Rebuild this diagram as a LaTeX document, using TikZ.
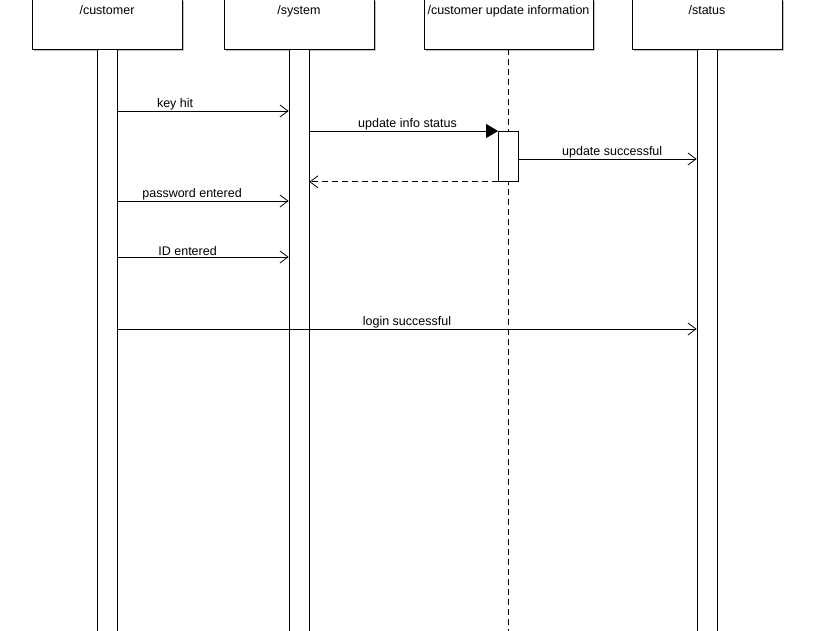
\documentclass[tikz,border=0pt]{standalone}
\usepackage{fontspec}
\setmainfont{Liberation Sans}
\usetikzlibrary{arrows.meta,positioning}
\begin{document}
\begin{tikzpicture}[x=1pt,y=-1pt,line join=miter,>={Straight Barb[length=8pt,width=12pt]},
        font=\fontsize{12.5}{14}\selectfont]
        \tikzset{head/.style={draw,line width=0.9pt,fill=white,minimum width=150pt,minimum height=50pt,inner sep=0pt},
            headshadow/.style={fill=black!25,minimum width=150pt,minimum height=50pt,inner sep=0pt},
            headtext/.style={anchor=north,inner sep=0pt,yshift=-7pt},
            bar/.style={draw,line width=0.8pt,fill=white,minimum width=20pt,minimum height=584pt,inner sep=0pt,anchor=north},
            msg/.style={->,line width=0.8pt},
            call/.style={-{Triangle[length=12pt,width=14pt]},line width=0.8pt},
            reply/.style={->,dashed,dash pattern=on 6pt off 4pt,line width=0.8pt},
            msglabel/.style={above,inner sep=0pt,yshift=0.5pt}}
        \useasboundingbox (0,0) rectangle (814,630);
        % shadows of the heads
        \foreach \cx/\w in {107/150,299/150,508.5/169,707/150}
            \node[headshadow,minimum width=\w pt] at (\cx+1.5,25.5) {};
        % heads
        \node[head] (cust) at (107,24) {};
        \node[head] (sys) at (299,24) {};
        \node[head,minimum width=169pt] (upd) at (508.5,24) {};
        \node[head] (stat) at (707,24) {};
        \node[headtext] (custtext) at (cust.north) {/customer};
        \node[headtext] (systext) at (sys.north) {/system};
        \node[headtext] (updtext) at (upd.north) {/customer update information};
        \node[headtext] (stattext) at (stat.north) {/status};
        % lifelines
        \node[bar] (custbar) at (cust.south) {};
        \node[bar] (sysbar) at (sys.south) {};
        \node[bar] (statbar) at (stat.south) {};
        \coordinate (updend) at (upd.south |- 0,632);
        \draw[line width=0.8pt,dash pattern=on 6pt off 4pt] (upd.south) -- (updend);
        \node[draw,line width=0.8pt,fill=white,minimum width=20pt,minimum height=50pt,inner sep=0pt,anchor=north] (act) at (upd.south |- 0,131) {};
        % messages
        \draw[msg] (custbar.east |- 0,111) -- (sysbar.west |- 0,111) node[msglabel,pos=0.337] {key hit};
        \draw[call] (sysbar.east |- act.north) -- (act.north west) node[msglabel,pos=0.52] {update info status};
        \draw[msg] (act.east |- 0,159) -- (statbar.west |- 0,159) node[msglabel,pos=0.525] {update successful};
        \draw[reply] (act.south west) -- (sysbar.east |- act.south);
        \draw[msg] (custbar.east |- 0,201) -- (sysbar.west |- 0,201) node[msglabel,pos=0.436] {password entered};
        \draw[msg] (custbar.east |- 0,257) -- (sysbar.west |- 0,257) node[msglabel,pos=0.41] {ID entered};
        \draw[msg] (custbar.east |- 0,329) -- (statbar.west |- 0,329) node[msglabel,pos=0.5] {login successful};
\end{tikzpicture}
\end{document}
